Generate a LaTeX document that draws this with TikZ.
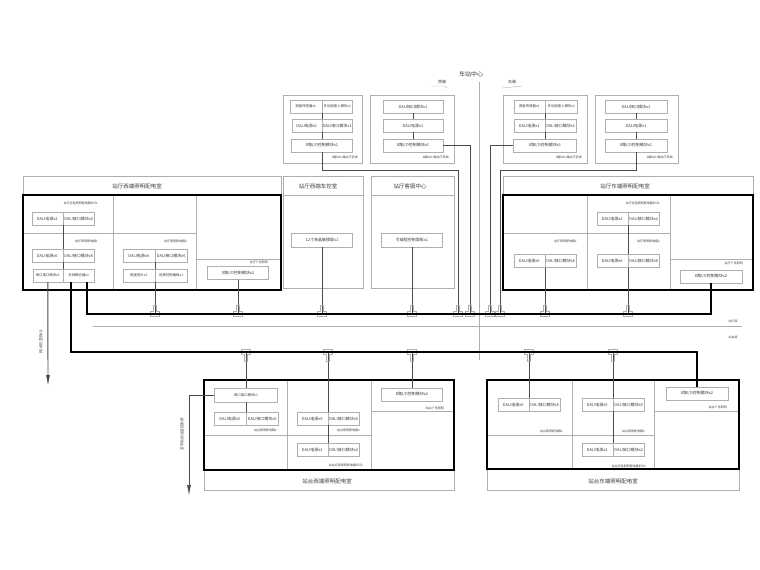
\documentclass[tikz,border=0pt]{standalone}
\usepackage{fontspec}
\setmainfont{Noto Sans CJK SC}
\usepackage{tikz}
\usetikzlibrary{arrows.meta}
\definecolor{cadgray}{RGB}{175,175,175}
\definecolor{cadtext}{RGB}{60,60,60}
\newcommand{\dalipair}[4]{%
  \node[mod,anchor=east,minimum width=#4] (#1l) at (#2) {DALI电源x#3};
  \node[mod,anchor=west,minimum width=#4] (#1r) at (#2) {DALI接口模块x#3};}
\begin{document}
\begin{tikzpicture}[x=1pt,y=-1pt,
  mod/.style={draw=cadgray,line width=0.4pt,minimum height=13,inner sep=0pt,font=\fontsize{4}{4}\selectfont,text=cadtext},
  room/.style={draw=cadgray,line width=0.4pt},
  hall/.style={draw=black,line width=1.1pt},
  wire/.style={draw=black!70,line width=0.9pt},
  bus/.style={draw=black,line width=1.6pt},
  tag/.style={font=\fontsize{3}{3}\selectfont,inner sep=0pt,text=cadtext},
  ttl/.style={font=\fontsize{5.5}{5.5}\selectfont,inner sep=0pt,text=cadtext},
  tap/.style={draw=cadgray,line width=0.4pt},
  small/.style={font=\fontsize{3.4}{3.4}\selectfont}]
\useasboundingbox (0,0) rectangle (760,570);

\coordinate (m1) at (479,82); \coordinate (m2) at (479,360);
\coordinate (f1) at (93,326); \coordinate (f2) at (742,326);
\coordinate (ka) at (458,170); \coordinate (kd) at (500,170);
\coordinate (u0) at (87,314); \coordinate (u1) at (155,314); \coordinate (u2) at (238,314);
\coordinate (u3) at (322,314); \coordinate (u4) at (412,314); \coordinate (u5) at (458,314);
\coordinate (u6) at (470,314); \coordinate (u7) at (490,314); \coordinate (u8) at (500,314);
\coordinate (u9) at (545,314); \coordinate (u10) at (628,314); \coordinate (u11) at (711,314);
\coordinate (v0) at (71,352); \coordinate (v1) at (246,352); \coordinate (v2) at (328,352);
\coordinate (v3) at (412,352); \coordinate (v4) at (529,352); \coordinate (v5) at (613,352);
\coordinate (v6) at (697,352);
\coordinate (rs) at (48,386); \coordinate (zh) at (189,496);

\node[ttl,font=\fontsize{6}{6}\selectfont] (zx) at (471,74) {车站中心};
\node[tag,font=\fontsize{4}{4}\selectfont] (xd) at (442,82) {西端};
\node[tag,font=\fontsize{4}{4}\selectfont] (dd) at (512,82) {东端};
\draw[room] ([xshift=-6pt,yshift=-2pt]xd.south west) -- ([xshift=-2pt,yshift=-2pt]xd.south east) -- ++(3,2);
\draw[room] ([xshift=-6pt,yshift=-4pt]dd.south west) -- ([xshift=6pt,yshift=-2pt]dd.south east);
\draw[room] (m1) -- (m2);
\draw[room] (f1) -- (f2);
\node[tag] (tc) at (733,321) {站厅层};
\node[tag] (pt) at (733,337) {站台层};

\draw[room] (283,95) rectangle (362,163);
\node[mod,small,anchor=east,minimum width=32] (a1l) at (322,106.5) {照度传感器x1};
\node[mod,small,anchor=west,minimum width=30] (a1r) at (322,106.5) {多功能输入模块x1};
\dalipair{a2}{322,125.5}{1}{30}
\node[mod,minimum width=61] (a3) at (322,145.5) {8路I/O控制模块x1};
\node[tag,anchor=east] (an) at (358,157) {3路DALI输出子系统};

\draw[room] (370,95) rectangle (454,163);
\node[mod,minimum width=60] (b1) at (413,106.5) {DALI接口模块x1};
\node[mod,minimum width=60] (b2) at (413,125.5) {DALI电源x1};
\node[mod,minimum width=60] (b3) at (413,145.5) {8路I/O控制模块x1};
\node[tag,anchor=east] (bn) at (449,157) {4路DALI输出子系统};

\draw[room] (503,95) rectangle (587,163);
\node[mod,small,anchor=east,minimum width=31] (c1l) at (545,106.5) {照度传感器x1};
\node[mod,small,anchor=west,minimum width=32] (c1r) at (545,106.5) {多功能输入模块x1};
\dalipair{c2}{545,125.5}{1}{31}
\node[mod,minimum width=63] (c3) at (545,145.5) {8路I/O控制模块x1};
\node[tag,anchor=east] (cn) at (582,157) {3路DALI输出子系统};

\draw[room] (595,95) rectangle (678,163);
\node[mod,minimum width=62] (d1) at (636,106.5) {DALI接口模块x1};
\node[mod,minimum width=62] (d2) at (636,125.5) {DALI电源x1};
\node[mod,minimum width=62] (d3) at (636,145.5) {8路I/O控制模块x1};
\node[tag,anchor=east] (dn) at (673,157) {2路DALI输出子系统};

\draw[wire] (a1l.south east) -- (a2l.north east);
\draw[wire] (a2l.south east) -- (a3.north);
\draw[wire] (a3.south) |- (ka) -- (u5);
\draw[wire] (b1) -- (b2) -- (b3);
\draw[wire] (b3.east) -| (u6);
\draw[wire] (c1l.south east) -- (c2l.north east);
\draw[wire] (c2l.south east) -- (c3.north);
\draw[wire] (c3.west) -| (u7);
\draw[wire] (d1) -- (d2) -- (d3);
\draw[wire] (d3.south) |- (kd) -- (u8);

\draw[room] (23,176) rectangle (281,195);
\node[ttl] (wt) at (137,186) {站厅西端照明配电室};
\draw[room] (113,195) -- (113,290) (196,195) -- (196,290) (23,233) -- (196,233) (196,259) -- (281,259);
\draw[hall] (23,195) rectangle (281,290);
\node[tag,anchor=east] (wn1) at (98,203) {站厅应急照明配电箱EPZ1};
\dalipair{wa1}{63,218.5}{2}{31}
\node[tag,anchor=east] (wn2) at (98,241) {站厅照明配电箱1};
\dalipair{wa2}{63,255.5}{6}{31}
\node[mod,small,anchor=east,minimum width=30] (wa3l) at (63,275.5) {串口接口模块x1};
\node[mod,small,anchor=west,minimum width=31] (wa3r) at (63,275.5) {总线耦合器x1};
\node[tag,anchor=east] (wn3) at (187,241) {站厅照明配电箱2};
\dalipair{wb1}{155,255.5}{6}{32}
\node[mod,small,anchor=east,minimum width=32] (wb2l) at (155,275.5) {照度探头x1};
\node[mod,small,anchor=west,minimum width=32] (wb2r) at (155,275.5) {场景控制面板x1};
\node[tag,anchor=east] (wn4) at (268,262) {站厅广告照明};
\node[mod,minimum width=61] (wc) at (238,273) {8路I/O控制模块x2};
\draw[wire] (wa1l.south east) -- (wa2l.north east);
\draw[wire] (wa2l.south east) -- (wa3l.north east);
\draw[wire,-{Latex[length=11pt,width=4pt]}] (wa3l.south) -- (rs);
\node[tag,rotate=90,font=\fontsize{4}{4}\selectfont] (rsn) at (41,342) {RS485至BAS};
\draw[wire] (wb1l.south east) -- (wb2l.north east);
\draw[wire] (wb2l.south east) -- (u1);
\draw[wire] (wc) -- (u2);

\draw[room] (283,176) rectangle (363,288);
\draw[room] (283,195) -- (363,195);
\node[ttl] (ct) at (318,186) {站厅西端车控室};
\node[mod,minimum width=61,minimum height=14] (ckp) at (322,240) {12寸液晶触摸屏x1};
\draw[wire] (ckp) -- (u3);

\draw[room] (371,176) rectangle (454,288);
\draw[room] (371,195) -- (454,195);
\node[ttl] (kt) at (410,186) {站厅客服中心};
\node[mod,minimum width=61,minimum height=14] (kfp) at (412,240) {可编程控制面板x1};
\draw[wire] (kfp) -- (u4);

\draw[room] (503,176) rectangle (753,195);
\node[ttl] (et) at (625,186) {站厅东端照明配电室};
\draw[room] (587,195) -- (587,290) (670,195) -- (670,290) (503,233) -- (670,233) (670,259) -- (753,259);
\draw[hall] (503,195) rectangle (753,290);
\node[tag,anchor=east] (en1) at (577,241) {站厅照明配电箱1};
\dalipair{ea}{545,261}{6}{31}
\node[tag,anchor=east] (en2) at (660,203) {站厅应急照明配电箱EPZ1};
\dalipair{eb1}{628,218.5}{2}{31}
\node[tag,anchor=east] (en3) at (660,241) {站厅照明配电箱2};
\dalipair{eb2}{628,261}{6}{31}
\node[tag,anchor=east] (en4) at (743,263) {站厅广告照明};
\node[mod,minimum width=62] (ec) at (711,276.5) {8路I/O控制模块x2};
\draw[wire] (ear.south west) -- (u9);
\draw[wire] (eb1r.south west) -- (eb2r.north west);
\draw[wire] (eb2r.south west) -- (u10);

\draw[room] (204,470) rectangle (454,490);
\node[ttl] (pwt) at (327,481) {站台西端照明配电室};
\draw[room] (287,380) -- (287,470) (371,380) -- (371,470) (204,435) -- (371,435) (371,411) -- (454,411);
\draw[hall] (204,380) rectangle (454,470);
\node[mod,small,minimum width=63,minimum height=14] (pa) at (246,395) {串口接口模块x1};
\dalipair{pb}{246,418.5}{5}{32}
\node[tag,anchor=east] (pn1) at (277,430) {站台照明配电箱1};
\dalipair{pc}{328,418.5}{5}{31}
\node[tag,anchor=east] (pn2) at (360,430) {站台照明配电箱2};
\dalipair{pd}{328,450}{2}{31}
\node[tag,anchor=east] (pn3) at (363,465) {站台应急照明配电箱EPZ2};
\node[mod,minimum width=61] (pe) at (412,394.5) {8路I/O控制模块x2};
\node[tag,anchor=east] (pn4) at (444,408) {站台广告照明};
\draw[wire] (v1) -- (pa);
\draw[wire] (pa.south) -- (pbl.north east);
\draw[wire,-{Latex[length=11pt,width=4pt]}] (pa.west) -| (zh);
\node[tag,rotate=90,font=\fontsize{3.6}{3.6}\selectfont] (zhn) at (182,434) {至车站综合监控系统};
\draw[wire] (v2) -- (pcr.north west);
\draw[wire] (pcr.south west) -- (pdr.north west);
\draw[wire] (v3) -- (pe);

\draw[room] (487,469) rectangle (739,490);
\node[ttl] (pet) at (613,481) {站台东端照明配电室};
\draw[room] (572,380) -- (572,469) (654,380) -- (654,469) (487,435) -- (654,435) (654,411) -- (739,411);
\draw[hall] (487,380) rectangle (739,469);
\dalipair{qa}{529,404.5}{5}{31}
\node[tag,anchor=east] (qn1) at (563,431) {站台照明配电箱1};
\dalipair{qb}{613,404.5}{5}{31}
\node[tag,anchor=east] (qn2) at (645,431) {站台照明配电箱2};
\dalipair{qc}{613,450}{2}{31}
\node[tag,anchor=east] (qn3) at (646,466) {站台应急照明配电箱EPZ2};
\node[mod,minimum width=62] (qd) at (697,393.5) {8路I/O控制模块x2};
\node[tag,anchor=east] (qn4) at (727,407) {站台广告照明};
\draw[wire] (v4) -- (qar.north west);
\draw[wire] (v5) -- (qbr.north west);
\draw[wire] (qbr.south west) -- (qcr.north west);

\foreach \t in {u1,u2,u3,u4,u5,u6,u7,u8,u9,u10}
  \draw[tap] (\t) ++(-1.5,-9) -- ++(0,6) -- ++(-3,0) -- ++(0,5) -- ++(9,0) -- ++(0,-5) -- ++(-3,0) -- ++(0,-6) -- cycle;
\foreach \t in {v1,v2,v3,v4,v5}
  \draw[tap] (\t) ++(-4.5,-3) -- ++(9,0) -- ++(0,5) -- ++(-3,0) -- ++(0,7) -- ++(-3,0) -- ++(0,-7) -- ++(-3,0) -- cycle;
\draw[bus] (wa3r.south -| u0) -- (u0) -- (u11) -- (ec.south);
\draw[bus] (wa3r.south -| v0) -- (v0) -- (v6) -- (qd.north);
\end{tikzpicture}
\end{document}
